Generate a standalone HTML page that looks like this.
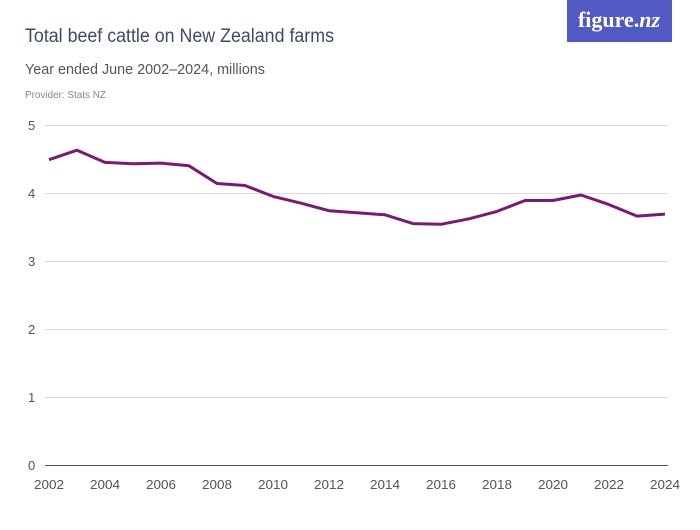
<!DOCTYPE html>
<html><head><meta charset="utf-8"><style>
body{margin:0;width:700px;height:525px;background:#fff;font-family:"Liberation Sans",sans-serif;overflow:hidden}
</style></head><body>
<svg width="700" height="525" xmlns="http://www.w3.org/2000/svg" font-family="Liberation Sans, sans-serif">
<rect x="567" y="0" width="105" height="42" fill="#5159c4"/>
<text x="619" y="27" text-anchor="middle" font-family="Liberation Serif, serif" font-size="22" font-weight="bold" fill="#fff">figure.<tspan font-style="italic">nz</tspan></text>
<text x="25" y="42" font-size="19" fill="#3e4a66" textLength="309" lengthAdjust="spacingAndGlyphs">Total beef cattle on New Zealand farms</text>
<text x="25" y="74" font-size="15" fill="#555" textLength="240" lengthAdjust="spacingAndGlyphs">Year ended June 2002–2024, millions</text>
<text x="25" y="98" font-size="10" fill="#888" textLength="81" lengthAdjust="spacingAndGlyphs">Provider: Stats NZ</text>
<g stroke="#ddd" stroke-width="1">
<line x1="45" x2="668" y1="125.5" y2="125.5"/><line x1="45" x2="668" y1="193.5" y2="193.5"/>
<line x1="45" x2="668" y1="261.5" y2="261.5"/><line x1="45" x2="668" y1="329.5" y2="329.5"/>
<line x1="45" x2="668" y1="397.5" y2="397.5"/>
</g>
<line x1="45" x2="668" y1="465.5" y2="465.5" stroke="#555"/>
<g font-size="13" fill="#555">
<text x="28" y="130">5</text><text x="28" y="198">4</text><text x="28" y="266">3</text>
<text x="28" y="334">2</text><text x="28" y="402">1</text><text x="28" y="470">0</text>
</g>
<g font-size="13" fill="#555" text-anchor="middle">
<text x="49" y="489" textLength="30" lengthAdjust="spacingAndGlyphs">2002</text><text x="105" y="489" textLength="30" lengthAdjust="spacingAndGlyphs">2004</text><text x="161" y="489" textLength="30" lengthAdjust="spacingAndGlyphs">2006</text>
<text x="217" y="489" textLength="30" lengthAdjust="spacingAndGlyphs">2008</text><text x="273" y="489" textLength="30" lengthAdjust="spacingAndGlyphs">2010</text><text x="329" y="489" textLength="30" lengthAdjust="spacingAndGlyphs">2012</text>
<text x="385" y="489" textLength="30" lengthAdjust="spacingAndGlyphs">2014</text><text x="441" y="489" textLength="30" lengthAdjust="spacingAndGlyphs">2016</text><text x="497" y="489" textLength="30" lengthAdjust="spacingAndGlyphs">2018</text>
<text x="553" y="489" textLength="30" lengthAdjust="spacingAndGlyphs">2020</text><text x="609" y="489" textLength="30" lengthAdjust="spacingAndGlyphs">2022</text><text x="665" y="489" textLength="30" lengthAdjust="spacingAndGlyphs">2024</text>
</g>
<polyline fill="none" stroke="#7b1a73" stroke-width="3" stroke-linejoin="round" points="49,159.7 77,150.2 105,162.4 133,163.8 161,163.1 189,165.8 217,183.5 245,185.5 273,196.4 301,203.2 329,210.7 357,212.7 385,214.8 413,223.6 441,224.3 469,218.8 497,211.4 525,200.5 553,200.5 581,195.0 609,204.6 637,216.1 665,214.1"/>
</svg>
</body></html>
